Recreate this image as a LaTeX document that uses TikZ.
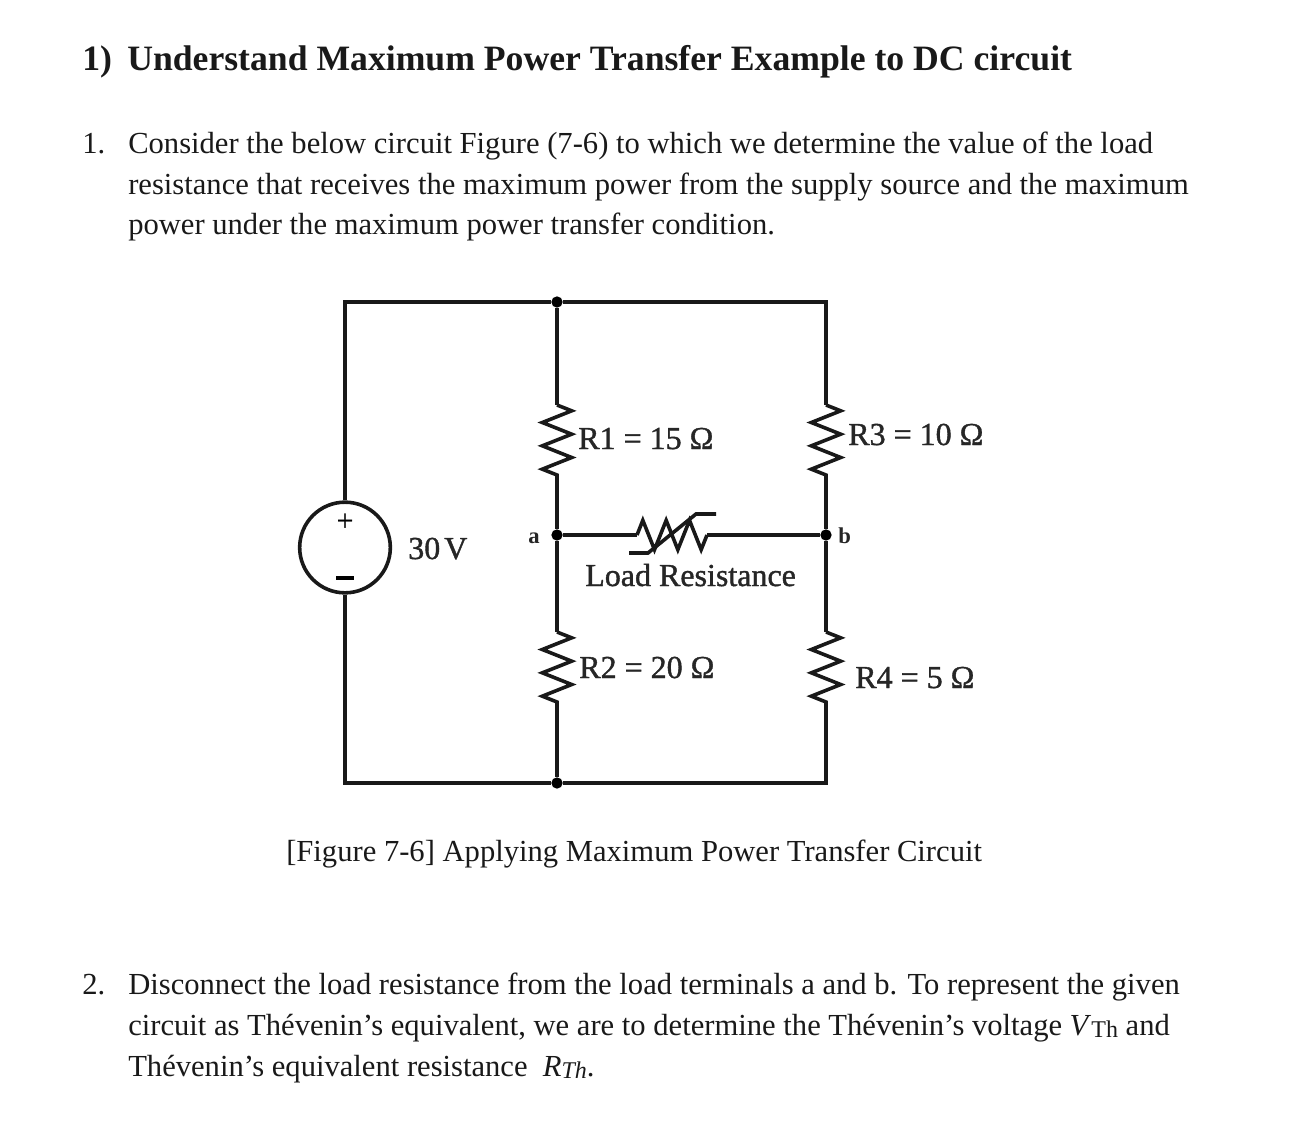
\documentclass[tikz,border=0pt]{standalone}
\usepackage{fontspec}
\usepackage{tikz}
\usetikzlibrary{decorations.pathmorphing}
\setmainfont{Liberation Serif}
\newfontfamily\labelfont[FakeBold=1.2]{Liberation Serif}

\tikzset{
  line/.style={node font=\fontsize{22.95pt}{28pt}\selectfont,text=black!90,anchor=base west,inner sep=0pt},
  heading/.style={line,node font=\fontsize{26.75pt}{30pt}\selectfont\bfseries},
  wire/.style={line width=2.7pt,black!90},
  res/.style={wire,decorate,decoration={zigzag,segment length=17.5pt,amplitude=11pt}},
  dot/.style={circle,fill=black,inner sep=0pt,minimum size=8.5pt},
  val/.style={node font=\fontsize{24pt}{28pt}\selectfont\labelfont,text=black!85,anchor=base west,inner sep=0pt},
  pin/.style={val,node font=\fontsize{17pt}{20pt}\selectfont\bfseries}
}

\begin{document}
\begin{tikzpicture}[x=0.75pt,y=-0.75pt]
    \useasboundingbox (0,0) rectangle (1302,1138);

    \node[heading] (title) at (82,70) {1)\hspace{11.5pt}Understand Maximum Power Transfer Example to DC circuit};

    \node[line] (n1) at (82,153) {1.};
    \node[line] (l1) at (128,153) {Consider the below circuit Figure (7-6) to which we determine the value of the load};
    \node[line] (l2) at (128,194) {resistance that receives the maximum power from the supply source and the maximum};
    \node[line] (l3) at (128,234) {power under the maximum power transfer condition.};

    \node[dot] (top) at (557,302) {};
    \node[dot] (bot) at (557,783) {};
    \node[dot] (a) at (557,535) {};
    \node[dot] (b) at (826,535) {};
    \coordinate (tr) at (826,302);
    \coordinate (br) at (826,783);
    \node[wire,draw,circle,fill=white,minimum size=68pt,inner sep=0pt] (vs) at (345,547.5) {};
    \node[node font=\fontsize{22pt}{24pt}\selectfont\labelfont,inner sep=0pt] (plus) at (345,522) {+};
    \node[fill=black,minimum width=13pt,minimum height=3pt,inner sep=0pt] (minus) at (345,578) {};

    \coordinate (r1t) at (557,405);
    \coordinate (r1b) at (557,478);
    \coordinate (r2t) at (557,632);
    \coordinate (r2b) at (557,703);
    \coordinate (r3t) at (826,405);
    \coordinate (r3b) at (826,478);
    \coordinate (r4t) at (826,632);
    \coordinate (r4b) at (826,703);
    \coordinate (rlw) at (637,535);
    \coordinate (rle) at (707,535);
    \coordinate (sw) at (629,553);
    \coordinate (swa) at (648,553);
    \coordinate (swb) at (696,514);
    \coordinate (se) at (716,514);

    \draw[wire] (vs.north) |- (top);
    \draw[wire] (top) -- (tr) -- (r3t);
    \draw[wire] (vs.south) |- (bot);
    \draw[wire] (bot) -- (br) -- (r4b);
    \draw[wire] (top) -- (r1t);
    \draw[res] (r1t) -- (r1b);
    \draw[wire] (r1b) -- (a);
    \draw[wire] (a) -- (r2t);
    \draw[res] (r2t) -- (r2b);
    \draw[wire] (r2b) -- (bot);
    \draw[res] (r3t) -- (r3b);
    \draw[wire] (r3b) -- (b);
    \draw[wire] (b) -- (r4t);
    \draw[res] (r4t) -- (r4b);
    \draw[wire] (a) -- (rlw);
    \draw[res] (rlw) -- (rle);
    \draw[wire] (rle) -- (b);
    \draw[wire] (sw) -- (swa) -- (swb) -- (se);

    \node[val] (v1) at (408,559) {30\hspace{3pt}V};
    \node[pin] (la) at (528,543) {a};
    \node[pin] (lb) at (838,543) {b};
    \node[val] (lr1) at (578,449) {R1 = 15 Ω};
    \node[val] (lr3) at (848,445) {R3 = 10 Ω};
    \node[val] (lrl) at (585,586) {Load Resistance};
    \node[val] (lr2) at (579,678) {R2 = 20 Ω};
    \node[val] (lr4) at (855,688) {R4 = 5 Ω};

    \node[line] (cap) at (286,861) {[Figure 7-6] Applying Maximum Power Transfer Circuit};

    \node[line] (n2) at (82,994) {2.};
    \node[line] (l4) at (128,994) {Disconnect the load resistance from the load terminals a and b. To represent the given};
    \node[line] (l5) at (128,1035) {circuit as Thévenin’s equivalent, we are to determine the Thévenin’s voltage \textit{V}\raisebox{-2pt}{\fontsize{18pt}{20pt}\selectfont Th} and};
    \node[line] (l6) at (128,1076) {Thévenin’s equivalent resistance \ \textit{R}\raisebox{-2pt}{\fontsize{18pt}{20pt}\selectfont\itshape Th}.};
\end{tikzpicture}
\end{document}
